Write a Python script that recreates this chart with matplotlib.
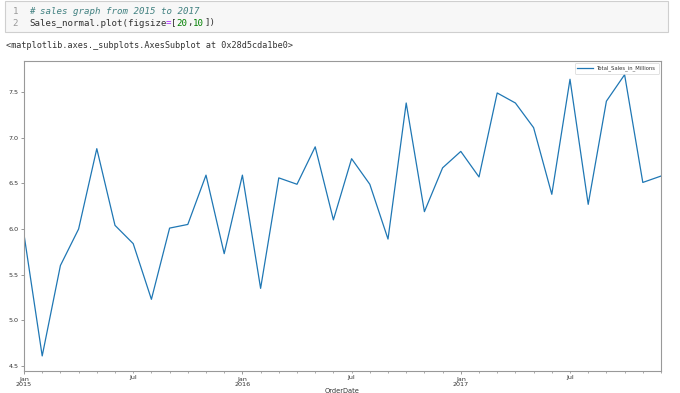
import matplotlib
matplotlib.use("Agg")
import matplotlib.pyplot as plt
import pandas as pd

# Monthly total sales (millions), Jan 2015 - Dec 2017
months = pd.date_range("2015-01-01", "2017-12-01", freq="MS")
sales = [5.94, 4.61, 5.60, 6.00, 6.88, 6.04, 5.84, 5.23, 6.01, 6.05, 6.59, 5.73,
         6.59, 5.35, 6.56, 6.49, 6.90, 6.10, 6.77, 6.49, 5.89, 7.38, 6.19, 6.67,
         6.85, 6.57, 7.49, 7.38, 7.11, 6.38, 7.64, 6.27, 7.40, 7.69, 6.51, 6.58]
series_name = "Total_Sales_in_Millions"
index_name = "OrderDate"

W, H = 680, 393
fig = plt.figure(figsize=(W / 100, H / 100), dpi=100)
fig.patch.set_facecolor("white")

# ---- notebook code cell ----
from matplotlib.patches import Rectangle
fig.patches.append(Rectangle((5 / W, 1 - 32 / H), 663 / W, 31 / H, transform=fig.transFigure,
                             facecolor="#f7f7f7", edgecolor="#cfcfcf", lw=0.8))
cw = 5.47  # px per char
fs_code = 6.54

def put_tokens(tokens, x0, yc):
    n = 0
    for txt, col, style in tokens:
        fig.text((x0 + n * cw) / W, 1 - yc / H, txt, color=col, fontsize=fs_code,
                 family="DejaVu Sans Mono", style=style, va="center", ha="left")
        n += len(txt)

fig.text(18 / W, 1 - 12 / H, "1", color="#999999", fontsize=fs_code, family="DejaVu Sans Mono",
         va="center", ha="right")
fig.text(18 / W, 1 - 23 / H, "2", color="#999999", fontsize=fs_code, family="DejaVu Sans Mono",
         va="center", ha="right")
put_tokens([("# sales graph from 2015 to 2017", "#408080", "italic")], 29, 12)
put_tokens([("Sales_normal.plot(figsize", "#333333", "normal"),
            ("=", "#AA22FF", "normal"),
            ("[", "#333333", "normal"),
            ("20", "#008000", "normal"),
            (",", "#333333", "normal"),
            ("10", "#008000", "normal"),
            ("])", "#333333", "normal")], 29, 23)
fig.text(6 / W, 1 - 45 / H, "<matplotlib.axes._subplots.AxesSubplot at 0x28d5cda1be0>",
         color="#333333", fontsize=6.1, family="DejaVu Sans Mono", va="center", ha="left")

# ---- chart ----
ax = fig.add_axes([24 / W, 1 - 371 / H, 637 / W, 310 / H])
s = pd.Series(sales, index=pd.DatetimeIndex(months, name=index_name), name=series_name)
s.plot(ax=ax, color="#1f77b4", lw=0.9)
ax.set_ylim(4.445, 7.84)
ax.set_yticks([4.5, 5.0, 5.5, 6.0, 6.5, 7.0, 7.5])
ax.tick_params(axis="both", which="major", labelsize=4.6, length=2.5, width=0.6,
               colors="#888888", labelcolor="#333333", pad=1.5)
ax.tick_params(axis="both", which="minor", labelsize=4.6, length=1.5, width=0.5,
               colors="#888888", labelcolor="#333333", pad=1.5)
for lab in ax.get_xticklabels(which="both"):
    lab.set_fontsize(4.6)
    lab.set_color("#333333")
for sp in ax.spines.values():
    sp.set_color("#999999")
    sp.set_linewidth(0.8)
ax.set_xlabel(index_name, fontsize=4.8, color="#333333", labelpad=0.8)
leg = ax.legend(loc="upper right", fontsize=3.8, frameon=True, handlelength=3,
                borderpad=0.5, borderaxespad=0.4)
leg.get_frame().set_linewidth(0.5)
leg.get_frame().set_edgecolor("#cccccc")
for t in leg.get_texts():
    t.set_color("#333333")

fig.savefig("out.png", dpi=100)
